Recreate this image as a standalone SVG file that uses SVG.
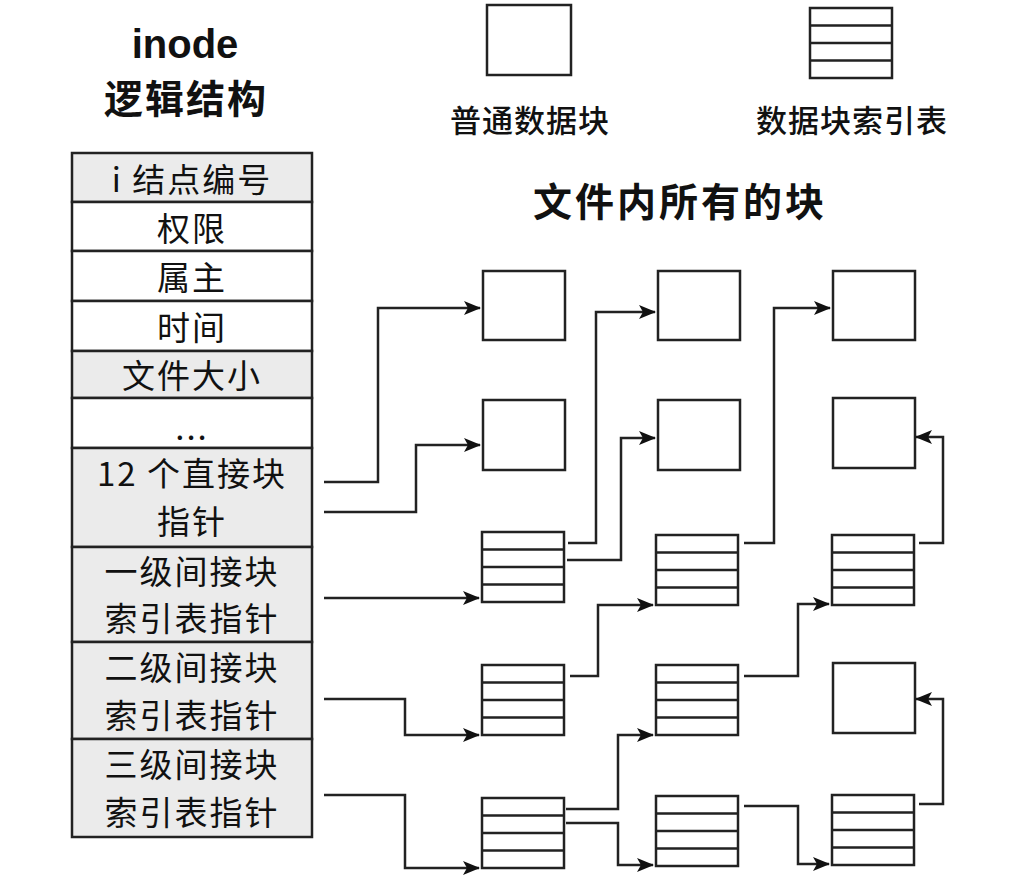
<svg xmlns="http://www.w3.org/2000/svg" width="1016" height="887" viewBox="0 0 1016 887">
<style>
.t{font-family:"Noto Sans CJK SC","Noto Sans",sans-serif;font-size:33px;fill:#111;text-anchor:middle;dominant-baseline:central;letter-spacing:2px}
.h{font-family:"Noto Sans CJK SC","Noto Sans",sans-serif;font-weight:bold;fill:#111;text-anchor:middle;dominant-baseline:central}
.l{font-family:"Noto Sans CJK SC","Noto Sans",sans-serif;font-size:31px;font-weight:500;fill:#111;text-anchor:middle;dominant-baseline:central;letter-spacing:1px}
.cell{stroke:#222;stroke-width:2.5}
.g{fill:#ebebeb}
.w{fill:#fff}
.blk{fill:#fff;stroke:#222;stroke-width:2.5}
.ln{stroke:#222;stroke-width:2.5;fill:none}
.c{fill:none;stroke:#222;stroke-width:2.5;marker-end:url(#ah)}
</style>
<defs>
<marker id="ah" markerUnits="userSpaceOnUse" markerWidth="18" markerHeight="14" refX="16" refY="7" orient="auto">
<path d="M0,0 L17,7 L0,14 L4,7 z" fill="#111"/>
</marker>
<g id="idx">
<rect class="blk" x="0" y="0" width="82" height="70"/>
<path class="ln" d="M0,17.5 H82 M0,35 H82 M0,52.5 H82"/>
</g>
</defs>
<rect width="1016" height="887" fill="#fff"/>

<g id="title">
<text x="185" y="58" font-family="'Liberation Sans',Arial,sans-serif" font-weight="bold" font-size="40" fill="#111" text-anchor="middle">inode</text>
<text class="h" x="186" y="96" font-size="39" letter-spacing="2">逻辑结构</text>
</g>

<g id="legend">
<g id="legend-data"><rect class="blk" x="487" y="5" width="84" height="70"/>
<text class="l" x="530" y="118">普通数据块</text></g>
<g id="legend-index"><use href="#idx" transform="translate(810,8)"/>
<text class="l" x="852" y="118">数据块索引表</text></g>
</g>

<g id="files-title"><text class="h" x="680" y="199" font-size="39" letter-spacing="3">文件内所有的块</text></g>

<g id="inode-table">
<g id="r-ino"><rect class="cell g" x="72" y="153" width="240" height="49"/><text class="t" x="192" y="178">i 结点编号</text></g>
<g id="r-perm"><rect class="cell w" x="72" y="202" width="240" height="49"/><text class="t" x="192" y="227">权限</text></g>
<g id="r-owner"><rect class="cell w" x="72" y="251" width="240" height="50"/><text class="t" x="192" y="276">属主</text></g>
<g id="r-time"><rect class="cell w" x="72" y="301" width="240" height="50"/><text class="t" x="192" y="326">时间</text></g>
<g id="r-size"><rect class="cell g" x="72" y="351" width="240" height="47"/><text class="t" x="192" y="374">文件大小</text></g>
<g id="r-dots"><rect class="cell w" x="72" y="398" width="240" height="50"/><text class="t" x="192" y="426">...</text></g>
<g id="r-direct"><rect class="cell g" x="72" y="448" width="240" height="99"/><text class="t" x="192" y="472">12 个直接块</text><text class="t" x="192" y="520">指针</text></g>
<g id="r-l1"><rect class="cell g" x="72" y="547" width="240" height="95"/><text class="t" x="192" y="570">一级间接块</text><text class="t" x="192" y="617">索引表指针</text></g>
<g id="r-l2"><rect class="cell g" x="72" y="642" width="240" height="97"/><text class="t" x="192" y="666">二级间接块</text><text class="t" x="192" y="714">索引表指针</text></g>
<g id="r-l3"><rect class="cell g" x="72" y="739" width="240" height="98"/><text class="t" x="192" y="763">三级间接块</text><text class="t" x="192" y="811">索引表指针</text></g>
</g>

<g id="blocks">
<rect id="b11" class="blk" x="483" y="271" width="82" height="69"/>
<rect id="b12" class="blk" x="483" y="400" width="82" height="70"/>
<use id="b13" href="#idx" transform="translate(482,532)"/>
<use id="b14" href="#idx" transform="translate(482,665)"/>
<use id="b15" href="#idx" transform="translate(482,798)"/>
<rect id="b21" class="blk" x="658" y="271" width="82" height="69"/>
<rect id="b22" class="blk" x="658" y="400" width="82" height="70"/>
<use id="b23" href="#idx" transform="translate(656,535)"/>
<use id="b24" href="#idx" transform="translate(656,665)"/>
<use id="b25" href="#idx" transform="translate(656,796)"/>
<rect id="b31" class="blk" x="833" y="271" width="82" height="69"/>
<rect id="b32" class="blk" x="833" y="398" width="82" height="70"/>
<use id="b33" href="#idx" transform="translate(832,535)"/>
<rect id="b34" class="blk" x="833" y="663" width="82" height="70"/>
<use id="b35" href="#idx" transform="translate(832,795)"/>
</g>

<g id="connectors">
<path class="c" d="M324,482 H378 V308 H480"/>
<path class="c" d="M324,512 H416 V445 H480"/>
<path class="c" d="M324,598 H479"/>
<path class="c" d="M324,699 H405 V735 H479"/>
<path class="c" d="M324,795 H405 V868 H479"/>
<path class="c" d="M568,543 H596 V312 H655"/>
<path class="c" d="M567,560 H621 V438 H655"/>
<path class="c" d="M570,676 H598 V605 H653"/>
<path class="c" d="M566,809 H618 V735 H653"/>
<path class="c" d="M566,823 H618 V865 H653"/>
<path class="c" d="M744,543 H774 V308 H830"/>
<path class="c" d="M744,676 H798 V604 H829"/>
<path class="c" d="M744,806 H798 V864 H829"/>
<path class="c" d="M919,543 H943 V437 H916"/>
<path class="c" d="M919,804 H943 V699 H916"/>
</g>
</svg>
